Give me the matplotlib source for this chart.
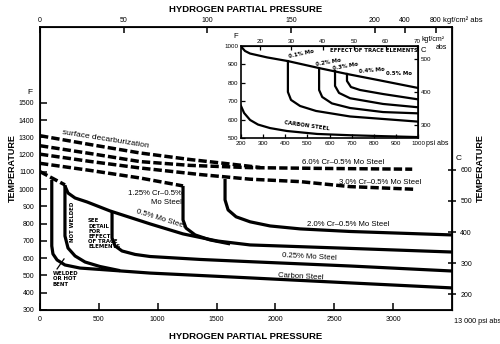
import numpy as np
import matplotlib
matplotlib.use('Agg')
import matplotlib.pyplot as plt

plt.rcParams['font.family'] = ['Liberation Sans', 'DejaVu Sans']

# ---------------- main chart data (psi abs, deg F) ----------------
surf_p = [0, 425, 850, 1275, 1615, 1870]
surf_t = [1310, 1259, 1210, 1172, 1146, 1126]
cr6_p = [0, 425, 850, 1275, 1785, 2465, 3162]
cr6_t = [1252, 1207, 1160, 1138, 1125, 1120, 1116]
cr3_p = [0, 425, 850, 1360, 1785, 2210, 2635, 3170]
cr3_t = [1203, 1161, 1123, 1085, 1058, 1044, 1015, 1000]
cr125_dash_p = [0, 425, 850, 1215]
cr125_dash_t = [1150, 1109, 1065, 1019]
cr125_p = [1215, 1215, 1240, 1318, 1445, 1615]
cr125_t = [1019, 822, 775, 735, 706, 683]
cr2_p = [1572, 1572, 1598, 1666, 1785, 1955, 2210, 2635, 3500]
cr2_t = [1059, 938, 880, 840, 811, 787, 770, 755, 735]
mo05_p = [212, 238, 298, 400, 595, 935, 1215, 1505, 1785, 2635, 3500]
mo05_t = [1019, 978, 949, 926, 874, 799, 741, 700, 677, 657, 636]
mo025_p = [612, 612, 638, 697, 808, 935, 1360, 1785, 2635, 3500]
mo025_t = [868, 717, 671, 642, 622, 610, 593, 580, 555, 526]
cs_dash_p = [0, 212]
cs_dash_t = [1102, 1025]
cs_p = [510, 935, 1360, 1785, 2635, 3500]
cs_t = [535, 514, 500, 486, 457, 428]
welded_p = [100, 100, 110, 145, 212, 340, 510]
welded_t = [1054, 671, 625, 590, 561, 543, 535]
notwelded_p = [212, 212, 238, 298, 383, 510, 680]
notwelded_t = [1025, 729, 659, 613, 578, 552, 528]

# axis ticks
left_ticks_f = list(range(300, 1501, 100))
right_ticks_c = [200, 300, 400, 500, 600]
bottom_ticks_psi = [0, 500, 1000, 1500, 2000, 2500, 3000]
top_ticks_kgf = [0, 50, 100, 150, 200, 400, 800]

# ---------------- inset data (psi abs, deg F) ----------------
in_top_p = [200, 218, 241, 318, 412, 553, 679, 828, 1000]
in_top_t = [997, 973, 959, 938, 918, 880, 848, 813, 772]
in_cs_p = [200, 214, 241, 277, 331, 408, 544, 693, 842, 1000]
in_cs_t = [674, 636, 598, 573, 554, 538, 522, 515, 510, 505]
in_mo01_p = [412, 412, 426, 467, 539, 693, 1000]
in_mo01_t = [918, 750, 707, 674, 647, 617, 589]
in_mo02_p = [553, 553, 567, 611, 693, 842, 1000]
in_mo02_t = [880, 761, 723, 688, 663, 641, 634]
in_mo03_p = [625, 625, 643, 693, 842, 1000]
in_mo03_t = [864, 783, 745, 716, 685, 667]
in_mo04_p = [679, 679, 697, 738, 842, 1000]
in_mo04_t = [848, 810, 777, 761, 739, 710]
in_x_ticks = [200, 300, 400, 500, 600, 700, 800, 900, 1000]
in_y_ticks = [500, 600, 700, 800, 900, 1000]
in_c_ticks = [300, 400, 500]
in_top_kgf = [20, 30, 40, 50, 60, 70]


def f2c(f):
    return (np.asarray(f) - 32) * 5 / 9


def c2f(c):
    return np.asarray(c) * 9 / 5 + 32


def kgf_to_plot(k):
    # linear part up to 200 kgf/cm2, compressed (broken) scale beyond
    k = np.asarray(k, dtype=float)
    lin = k * 14.223
    return np.where(k <= 200, lin, np.interp(k, [200, 400, 800], [2845, 3100, 3360]))


W, H = 500, 344
fig = plt.figure(figsize=(W / 100, H / 100), dpi=100)

L, R, T, B = 40, 452, 27, 310
ax = fig.add_axes([L / W, 1 - B / H, (R - L) / W, (B - T) / H])
ax.set_xlim(0, 3500)
ax.set_ylim(300, 1940)
for s in ax.spines.values():
    s.set_linewidth(1.3)

lw = 2.3
dash = (0, (2.4, 0.9))
k = 'black'
for p, t in [(surf_p, surf_t), (cr6_p, cr6_t), (cr3_p, cr3_t),
             (cr125_dash_p, cr125_dash_t), (cs_dash_p, cs_dash_t)]:
    ax.plot(p, t, color=k, lw=2.5, ls=dash)
for p, t in [(cr125_p, cr125_t), (cr2_p, cr2_t), (mo05_p, mo05_t), (mo025_p, mo025_t),
             (cs_p, cs_t), (welded_p, welded_t), (notwelded_p, notwelded_t)]:
    ax.plot(p, t, color=k, lw=lw, solid_joinstyle='round', solid_capstyle='butt')

ax.set_yticks(left_ticks_f)
ax.set_xticks(bottom_ticks_psi)
ax.tick_params(direction='in', length=5, width=1.1, labelsize=5, pad=4)

sec = ax.secondary_yaxis('right', functions=(f2c, c2f))
sec.set_yticks(right_ticks_c)
sec.tick_params(direction='inout', length=6, width=1.1, labelsize=5, pad=3)

top = ax.twiny()
top.set_xlim(ax.get_xlim())
top.set_xticks(kgf_to_plot(top_ticks_kgf))
top.set_xticklabels([str(v) for v in top_ticks_kgf])
top.tick_params(direction='in', length=4, width=1.1, labelsize=5, pad=2.5)

ax.text(1.005, -0.039, '13 000 psi abs', transform=ax.transAxes, ha='left', va='center', fontsize=5.2)
ax.text(0.978, 1.025, 'kgf/cm² abs', transform=ax.transAxes, ha='left', va='center', fontsize=5.5)
ax.text(0.5, 1.062, 'HYDROGEN PARTIAL PRESSURE', transform=ax.transAxes, ha='center', va='center',
        fontsize=6.8, fontweight='bold')
ax.text(0.5, -0.092, 'HYDROGEN PARTIAL PRESSURE', transform=ax.transAxes, ha='center', va='center',
        fontsize=6.8, fontweight='bold')
ax.text(-0.068, 0.502, 'TEMPERATURE', transform=ax.transAxes, rotation=90, ha='center', va='center',
        fontsize=6.5, fontweight='bold')
ax.text(1.07, 0.502, 'TEMPERATURE', transform=ax.transAxes, rotation=90, ha='center', va='center',
        fontsize=6.5, fontweight='bold')
ax.text(-0.024, 0.767, 'F', transform=ax.transAxes, ha='center', va='center', fontsize=6)
ax.text(1.017, 0.534, 'C', transform=ax.transAxes, ha='center', va='center', fontsize=6)

# curve labels
ax.text(561, 1286, 'surface decarburization', ha='center', va='center', fontsize=6, rotation=-9)
ax.text(2574, 1152, '6.0% Cr\u20130.5% Mo Steel', ha='center', va='center', fontsize=5.6)
ax.text(2890, 1036, '3.0% Cr\u20130.5% Mo Steel', ha='center', va='center', fontsize=5.6)
ax.text(1207, 949, '1.25% Cr\u20130.5%\nMo Steel', ha='right', va='center', fontsize=5.6,
        multialignment='right', linespacing=1.3)
ax.text(1020, 828, '0.5% Mo Steel', ha='center', va='center', fontsize=5.6, rotation=-17)
ax.text(2618, 796, '2.0% Cr\u20130.5% Mo Steel', ha='center', va='center', fontsize=5.6)
ax.text(2286, 606, '0.25% Mo Steel', ha='center', va='center', fontsize=5.6, rotation=-3)
ax.text(2218, 493, 'Carbon Steel', ha='center', va='center', fontsize=5.6, rotation=-3)
cond = dict(fontweight='bold', family='DejaVu Sans', fontstretch='condensed')
ax.text(272, 810, 'NOT WELDED', ha='center', va='center', fontsize=4.3, rotation=90, **cond)
ax.text(408, 741, 'SEE\nDETAIL\nFOR\nEFFECT\nOF TRACE\nELEMENTS', ha='left', va='center', fontsize=4.3,
        linespacing=1.05, **cond)
ax.text(110, 480, 'WELDED\nOR HOT\nBENT', ha='left', va='center', fontsize=4.3,
        linespacing=1.05, **cond)
ax.plot([145, 204], [538, 596], color=k, lw=0.9)

# ---------------- inset ----------------
iL, iR, iT, iB = 241, 418, 46, 138
ins = fig.add_axes([iL / W, 1 - iB / H, (iR - iL) / W, (iB - iT) / H], zorder=5)
ins.set_facecolor('white')
ins.set_xlim(200, 1000)
ins.set_ylim(500, 1000)
for s in ins.spines.values():
    s.set_linewidth(1.2)
ilw = 1.6
for p, t in [(in_top_p, in_top_t), (in_cs_p, in_cs_t), (in_mo01_p, in_mo01_t),
             (in_mo02_p, in_mo02_t), (in_mo03_p, in_mo03_t), (in_mo04_p, in_mo04_t)]:
    ins.plot(p, t, color=k, lw=ilw, solid_joinstyle='round')
ins.set_xticks(in_x_ticks)
ins.set_yticks(in_y_ticks)
ins.tick_params(direction='in', length=3, width=0.9, labelsize=4.5, pad=2)
isec = ins.secondary_yaxis('right', functions=(f2c, c2f))
isec.set_yticks(in_c_ticks)
isec.tick_params(direction='in', length=3, width=0.9, labelsize=4.5, pad=2)
itop = ins.secondary_xaxis('top', functions=(lambda p: np.asarray(p) / 14.223,
                                              lambda q: np.asarray(q) * 14.223))
itop.set_xticks(in_top_kgf)
itop.tick_params(direction='in', length=3, width=0.9, labelsize=4.5, pad=1.5)
ins.text(-0.028, 1.10, 'F', transform=ins.transAxes, ha='center', va='center', fontsize=5.5)
ins.text(1.028, 0.955, 'C', transform=ins.transAxes, ha='center', va='center', fontsize=5.5)
ins.text(1.017, 1.076, 'kgf/cm²', transform=ins.transAxes, ha='left', va='center', fontsize=5)
ins.text(1.164, 0.985, 'abs', transform=ins.transAxes, ha='right', va='center', fontsize=5)
ins.text(1.045, -0.065, 'psi abs', transform=ins.transAxes, ha='left', va='center', fontsize=5)

ins.text(471, 957, '0.1% Mo', ha='center', va='center', fontsize=4.3, rotation=12, **cond)
ins.text(593, 913, '0.2% Mo', ha='center', va='center', fontsize=4.3, rotation=10, **cond)
ins.text(670, 889, '0.3% Mo', ha='center', va='center', fontsize=4.3, rotation=10, **cond)
ins.text(792, 870, '0.4% Mo', ha='center', va='center', fontsize=4.3, rotation=5, **cond)
ins.text(914, 848, '0.5% Mo', ha='center', va='center', fontsize=4.3, rotation=0, **cond)
ins.text(799, 974, 'EFFECT OF TRACE ELEMENTS', ha='center', va='center', fontsize=4.3, **cond)
ins.text(498, 568, 'CARBON STEEL', ha='center', va='center', fontsize=4.3, rotation=-8, **cond)

fig.savefig('out.png', dpi=100, facecolor='white')
